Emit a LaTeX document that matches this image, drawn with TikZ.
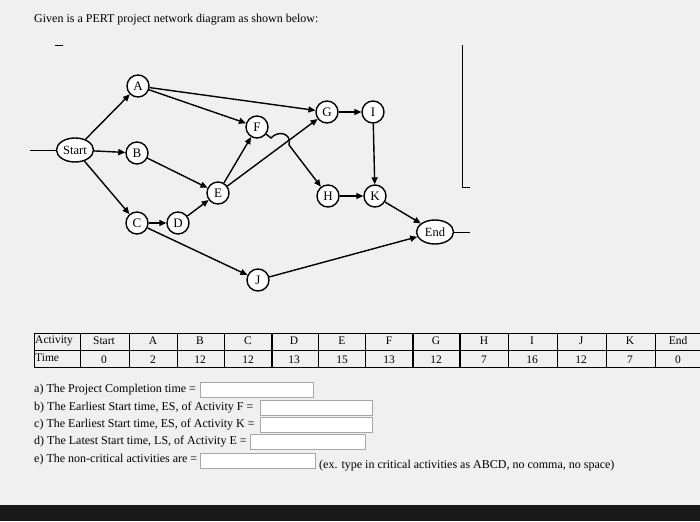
\documentclass[tikz,border=0pt]{standalone}
\usepackage{fontspec}
\setmainfont{Liberation Serif}
\usetikzlibrary{shapes.geometric,arrows.meta}
\begin{document}
\begin{tikzpicture}[x=1pt,y=-1pt,
  ev/.style={draw,line width=1.4pt,circle,fill=white,minimum size=22pt,inner sep=0pt,font=\fontsize{13}{13}\selectfont},
  eve/.style={draw,line width=1.4pt,ellipse,fill=white,minimum width=37pt,minimum height=24pt,inner sep=0pt,font=\fontsize{12.5}{13}\selectfont},
  arr/.style={line width=1.4pt,-{Triangle[length=7pt,width=6pt]}},
  cell/.style={draw,line width=0.8pt,minimum height=17pt,inner sep=0pt,font=\fontsize{11.5}{12}\selectfont},
  tx/.style={anchor=west,inner sep=0pt,font=\fontsize{12}{12}\selectfont},
  ansbox/.style={draw=gray!70,fill=white,minimum height=15pt,inner sep=0pt}]
\fill[gray!12] (0,0) rectangle (700,505);
\fill[black!90] (0,505) rectangle (700,521);
\useasboundingbox (0,0) rectangle (700,521);
\node[tx] (title) at (34,20) {Given is a PERT project network diagram as shown below:};
\coordinate (d1) at (55,45); \coordinate (d2) at (63,45);
\draw (d1) -- (d2);
\coordinate (v1) at (462,45); \coordinate (v2) at (462,187); \coordinate (v3) at (470,187);
\draw (v1) -- (v2) -- (v3);
\node[eve] (S) at (75,150) {Start};
\node[ev] (A) at (138,86) {A};
\node[ev] (B) at (137,153) {B};
\node[ev] (C) at (137,223) {C};
\node[ev] (D) at (178,223) {D};
\node[ev] (E) at (218,193) {E};
\node[ev] (F) at (257,127) {F};
\node[ev] (G) at (327,112) {G};
\node[ev] (I) at (373,112) {I};
\node[ev] (H) at (328,196) {H};
\node[ev] (K) at (375,196) {K};
\node[eve] (End) at (435,232) {End};
\node[ev] (J) at (258,280) {J};
\coordinate (l1) at (30,150); \coordinate (l2) at (470,232);
\draw (l1) -- (S.west);
\draw (End.east) -- (l2);
\draw[arr] (S) -- (A); \draw[arr] (S) -- (B); \draw[arr] (S) -- (C);
\draw[arr] (A) -- (G); \draw[arr] (A) -- (F);
\draw[arr] (B) -- (E); \draw[arr] (C) -- (D); \draw[arr] (D) -- (E);
\draw[arr] (C) -- (J); \draw[arr] (E) -- (F); \draw[arr] (E) -- (G);
\draw[arr] (G) -- (I); \draw[arr] (I) -- (K); \draw[arr] (H) -- (K);
\draw[arr] (K) -- (End); \draw[arr] (J) -- (End);
\coordinate (h1) at (271,138); \coordinate (h2) at (289,145);
\draw[arr] (F) -- (h1) .. controls (278,130) and (292,133) .. (h2) -- (H);
% table
\foreach \w/\x [count=\i] in {46/34,49/80,48/129,47/177,48/224,47/271,47/318,48/365,47/412,48/460,49/508,49/557,49/606,45/655}{
  \node[cell,minimum width=\w pt,anchor=north west] (ha\i) at (\x,333) {};
  \node[cell,minimum width=\w pt,anchor=north west] (tb\i) at (\x,350) {};
}
\foreach \t/\x [count=\i] in {Start/104,A/153,B/200,C/248,D/294,E/342,F/389,G/436,H/484,I/532,J/581,K/630,End/678}{
  \node[font=\fontsize{11.5}{12}\selectfont] (ht\i) at (\x,341) {\t};
}
\node[tx,font=\fontsize{11.5}{12}\selectfont] (hact) at (35,341) {Activity};
\node[tx,font=\fontsize{11.5}{12}\selectfont] (htime) at (35,358) {Time};
\foreach \t/\x [count=\i] in {0/104,2/153,12/200,12/248,13/294,15/342,13/389,12/436,7/484,16/532,12/581,7/630,0/678}{
  \node[font=\fontsize{11.5}{12}\selectfont] (tt\i) at (\x,360) {\t};
}
\node[tx] (qa) at (34,390) {a) The Project Completion time =};
\node[ansbox,minimum width=113pt,anchor=west] (ba) at (200,390) {};
\node[tx] (qb) at (34,408) {b) The Earliest Start time, ES, of Activity F =};
\node[ansbox,minimum width=112pt,anchor=west] (bb) at (260,408) {};
\node[tx] (qc) at (34,425) {c) The Earliest Start time, ES, of Activity K =};
\node[ansbox,minimum width=112pt,anchor=west] (bc) at (260,425) {};
\node[tx] (qd) at (34,442) {d) The Latest Start time, LS, of Activity E =};
\node[ansbox,minimum width=115pt,anchor=west] (bd) at (250,442) {};
\node[tx] (qe) at (34,460) {e) The non-critical activities are =};
\node[ansbox,minimum width=115pt,anchor=west] (be) at (200,461) {};
\node[tx] (ex) at (319,466) {(ex. type in critical activities as ABCD, no comma, no space)};
\end{tikzpicture}
\end{document}
